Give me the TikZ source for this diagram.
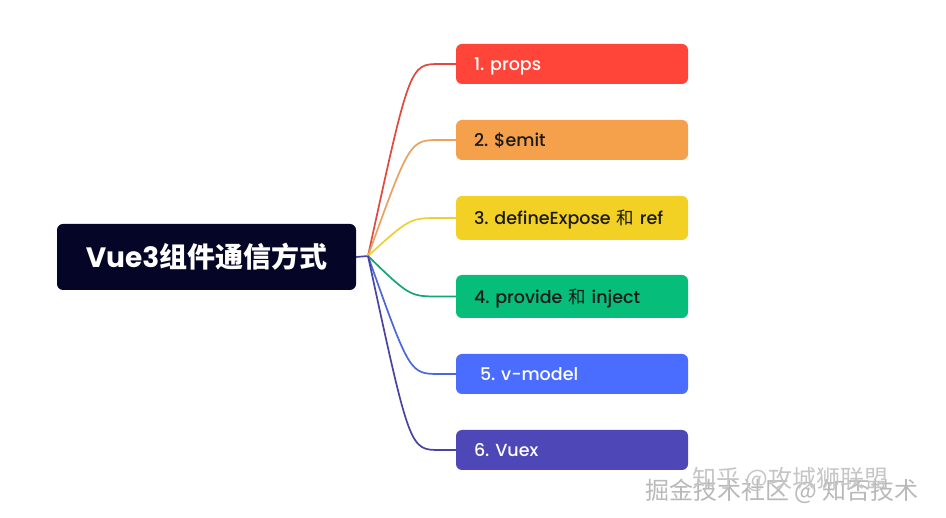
\documentclass[tikz,border=0pt]{standalone}
\usepackage{fontspec}
\setmainfont{Poppins}
\newfontfamily\cjk{Noto Sans CJK SC}
\newfontfamily\cjkb{Noto Sans CJK SC Bold}
\usetikzlibrary{calc}
\definecolor{navy}{HTML}{050528}
\definecolor{cred}{HTML}{FF4539}
\definecolor{corange}{HTML}{F5A04A}
\definecolor{cyellow}{HTML}{F2D024}
\definecolor{cgreen}{HTML}{06BD7A}
\definecolor{cblue}{HTML}{4A6CFF}
\definecolor{cpurple}{HTML}{4D47B8}
\definecolor{lred}{HTML}{E04A3E}
\definecolor{lorange}{HTML}{E8A262}
\definecolor{lyellow}{HTML}{EDD034}
\definecolor{lgreen}{HTML}{14A673}
\definecolor{lblue}{HTML}{4A67DF}
\definecolor{lpurple}{HTML}{4745A0}
\definecolor{txtdark}{HTML}{1A1A1A}
\tikzset{
  x=1pt,y=-1pt,
  mainbox/.style={draw=none,fill=navy,rounded corners=6pt,minimum width=299pt,minimum height=66pt,text=white,font=\fontsize{28}{32}\selectfont\bfseries},
  childbox/.style={draw=none,rounded corners=6pt,minimum height=40pt,text width=196pt,inner xsep=18pt,inner ysep=0pt,text height=14pt,text depth=0pt,align=left,font=\fontsize{17.5}{20}\selectfont\fontspec{Poppins Medium}\frenchspacing},
  branch/.style={line width=1.7pt},
  wm/.style={font=\fontsize{24}{26}\selectfont\cjk,anchor=base west,inner sep=0pt}
}
\begin{document}
\begin{tikzpicture}
\useasboundingbox (0,0) rectangle (946,518);
\fill[white] (0,0) rectangle (946,518);
\node[mainbox] (main) at (206.5,257) {Vue3{\cjkb 组件通信方式}};
\node[childbox,fill=cred,text=white] (c1) at (572,64) {1. props};
\node[childbox,fill=corange,text=txtdark] (c2) at (572,140) {2. \$emit};
\node[childbox,fill=cyellow,text=txtdark,minimum height=44pt] (c3) at (572,218) {3. defineExpose {\cjk 和} ref};
\node[childbox,fill=cgreen,text=txtdark,minimum height=43pt] (c4) at (572,296.5) {4. provide {\cjk 和} inject};
\node[childbox,fill=cblue,text=white] (c5) at (572,374) {\hspace*{6pt}5. v-model};
\node[childbox,fill=cpurple,text=white] (c6) at (572,450) {6. Vuex};
\coordinate (hub) at (368,256);
\draw[branch,lpurple] (main.east) -- (hub);
\foreach \n/\c in {c1/lred,c2/lorange,c3/lyellow,c4/lgreen,c5/lblue,c6/lpurple}{
  \draw[branch,\c] (hub) .. controls ($(\n.west)+(-46,0)$) and ($(\n.west)+(-46,0)$) .. ($(\n.west)+(-16,0)$) -- (\n.west);
}
% watermark
\node[wm,text=gray!55] (wmA) at (645,500) {掘金技术社区 @ 知否技术};
\node[wm,text=gray!45] (wmB) at (692,488) {知乎 @攻城狮联盟};
\end{tikzpicture}
\end{document}
